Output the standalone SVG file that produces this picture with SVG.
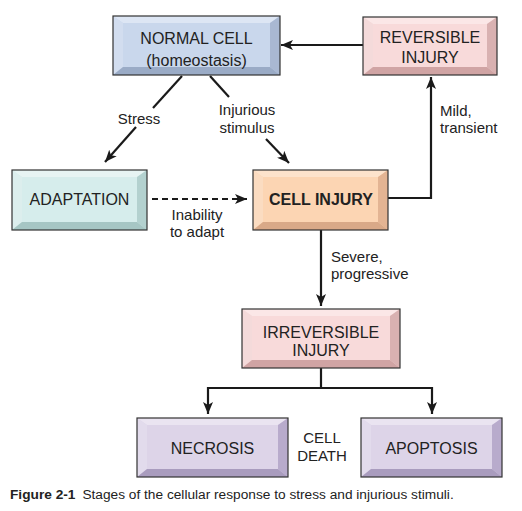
<svg xmlns="http://www.w3.org/2000/svg" width="522" height="511" viewBox="0 0 522 511">
<style>
text{font-family:"Liberation Sans",Arial,sans-serif;fill:#222}
.bt{font-size:16px;text-anchor:middle}
.lb{font-size:15px}
.ol{fill:none;stroke:#333;stroke-width:1.2}
.con{fill:none;stroke:#1a1a1a;stroke-width:2.2}
.blue .f{fill:#c9d7ec}.blue .t{fill:#dde6f4}.blue .l{fill:#d2ddef}.blue .r{fill:#a9b8d2}.blue .b{fill:#9aabc6}
.pink .f{fill:#f8dada}.pink .t{fill:#fbe7e7}.pink .l{fill:#f4dada}.pink .r{fill:#d9b1b1}.pink .b{fill:#d0a4a4}
.teal .f{fill:#d6edec}.teal .t{fill:#e7f4f3}.teal .l{fill:#dceeed}.teal .r{fill:#b3d1cf}.teal .b{fill:#a6c6c4}
.orng .f{fill:#fcd5b3}.orng .t{fill:#fde3cc}.orng .l{fill:#fbdcc1}.orng .r{fill:#e3b493}.orng .b{fill:#d9a988}
.purp .f{fill:#ddd4e8}.purp .t{fill:#eae4f1}.purp .l{fill:#e2dbec}.purp .r{fill:#b8abcc}.purp .b{fill:#a99cbe}
</style>
<defs>
<marker id="ah" viewBox="0 0 12 10" refX="12" refY="5" markerWidth="12" markerHeight="10" markerUnits="userSpaceOnUse" orient="auto">
<path d="M0,0 L12,5 L0,10 L3,5 z" fill="#1a1a1a"/>
</marker>
</defs>
<rect width="522" height="511" fill="#fff"/>

<g id="connectors">
<path class="con" d="M363,45 L281,45" marker-end="url(#ah)"/>
<path class="con" d="M182,76 L153,108"/>
<path class="con" d="M136,127 L105,162" marker-end="url(#ah)"/>
<path class="con" d="M210,76 L229,97"/>
<path class="con" d="M266,139 L289,163" marker-end="url(#ah)"/>
<path class="con" d="M152,199 L247,199" stroke-dasharray="6,4" marker-end="url(#ah)"/>
<path class="con" d="M388,198 H431 V77" marker-end="url(#ah)"/>
<path class="con" d="M321,230 V306" marker-end="url(#ah)"/>
<path class="con" d="M321,368 V388"/>
<path class="con" d="M208,388 H432"/>
<path class="con" d="M208,387 V414" marker-end="url(#ah)"/>
<path class="con" d="M432,387 V414" marker-end="url(#ah)"/>
</g>

<g id="normal-cell" class="blue">
<rect class="f" x="113" y="16" width="167" height="59"/>
<polygon class="t" points="113,16 280,16 270,23 123,23"/>
<polygon class="l" points="113,16 123,23 123,67 113,75"/>
<polygon class="r" points="280,16 280,75 270,67 270,23"/>
<polygon class="b" points="113,75 123,67 270,67 280,75"/>
<rect class="ol" x="113" y="16" width="167" height="59"/>
<text class="bt" x="196.5" y="44">NORMAL CELL</text>
<text class="bt" x="196.5" y="66">(homeostasis)</text>
</g>

<g id="reversible-injury" class="pink">
<rect class="f" x="363" y="17" width="134" height="58"/>
<polygon class="t" points="363,17 497,17 487,24 373,24"/>
<polygon class="l" points="363,17 373,24 373,67 363,75"/>
<polygon class="r" points="497,17 497,75 487,67 487,24"/>
<polygon class="b" points="363,75 373,67 487,67 497,75"/>
<rect class="ol" x="363" y="17" width="134" height="58"/>
<text class="bt" x="430" y="43">REVERSIBLE</text>
<text class="bt" x="430" y="63">INJURY</text>
</g>

<g id="adaptation" class="teal">
<rect class="f" x="12" y="170" width="135" height="60"/>
<polygon class="t" points="12,170 147,170 137,177 22,177"/>
<polygon class="l" points="12,170 22,177 22,222 12,230"/>
<polygon class="r" points="147,170 147,230 137,222 137,177"/>
<polygon class="b" points="12,230 22,222 137,222 147,230"/>
<rect class="ol" x="12" y="170" width="135" height="60"/>
<text class="bt" x="79.5" y="205">ADAPTATION</text>
</g>

<g id="cell-injury" class="orng">
<rect class="f" x="253" y="170" width="135" height="60"/>
<polygon class="t" points="253,170 388,170 378,177 263,177"/>
<polygon class="l" points="253,170 263,177 263,222 253,230"/>
<polygon class="r" points="388,170 388,230 378,222 378,177"/>
<polygon class="b" points="253,230 263,222 378,222 388,230"/>
<rect class="ol" x="253" y="170" width="135" height="60"/>
<text class="bt" x="321" y="205" font-weight="bold">CELL INJURY</text>
</g>

<g id="irreversible-injury" class="pink">
<rect class="f" x="242" y="309" width="158" height="59"/>
<polygon class="t" points="242,309 400,309 390,316 252,316"/>
<polygon class="l" points="242,309 252,316 252,360 242,368"/>
<polygon class="r" points="400,309 400,368 390,360 390,316"/>
<polygon class="b" points="242,368 252,360 390,360 400,368"/>
<rect class="ol" x="242" y="309" width="158" height="59"/>
<text class="bt" x="321" y="338">IRREVERSIBLE</text>
<text class="bt" x="321" y="356">INJURY</text>
</g>

<g id="necrosis" class="purp">
<rect class="f" x="137" y="418" width="151" height="59"/>
<polygon class="t" points="137,418 288,418 278,425 147,425"/>
<polygon class="l" points="137,418 147,425 147,469 137,477"/>
<polygon class="r" points="288,418 288,477 278,469 278,425"/>
<polygon class="b" points="137,477 147,469 278,469 288,477"/>
<rect class="ol" x="137" y="418" width="151" height="59"/>
<text class="bt" x="212.5" y="454">NECROSIS</text>
</g>

<g id="apoptosis" class="purp">
<rect class="f" x="361" y="418" width="141" height="59"/>
<polygon class="t" points="361,418 502,418 492,425 371,425"/>
<polygon class="l" points="361,418 371,425 371,469 361,477"/>
<polygon class="r" points="502,418 502,477 492,469 492,425"/>
<polygon class="b" points="361,477 371,469 492,469 502,477"/>
<rect class="ol" x="361" y="418" width="141" height="59"/>
<text class="bt" x="431.5" y="454">APOPTOSIS</text>
</g>

<g id="labels">
<text class="lb" x="139" y="124" text-anchor="middle">Stress</text>
<text class="lb" x="247" y="115" text-anchor="middle">Injurious</text>
<text class="lb" x="247" y="133" text-anchor="middle">stimulus</text>
<text class="lb" x="440" y="116">Mild,</text>
<text class="lb" x="440" y="133">transient</text>
<text class="lb" x="197" y="220" text-anchor="middle">Inability</text>
<text class="lb" x="197" y="237" text-anchor="middle">to adapt</text>
<text class="lb" x="331" y="262">Severe,</text>
<text class="lb" x="331" y="279">progressive</text>
<text class="bt" x="322" y="443" style="font-size:15px">CELL</text>
<text class="bt" x="322" y="461" style="font-size:15px">DEATH</text>
</g>

<g id="caption">
<text x="10" y="499" style="font-size:13.7px"><tspan font-weight="bold">Figure 2-1</tspan><tspan dx="7">Stages of the cellular response to stress and injurious stimuli.</tspan></text>
</g>
</svg>
